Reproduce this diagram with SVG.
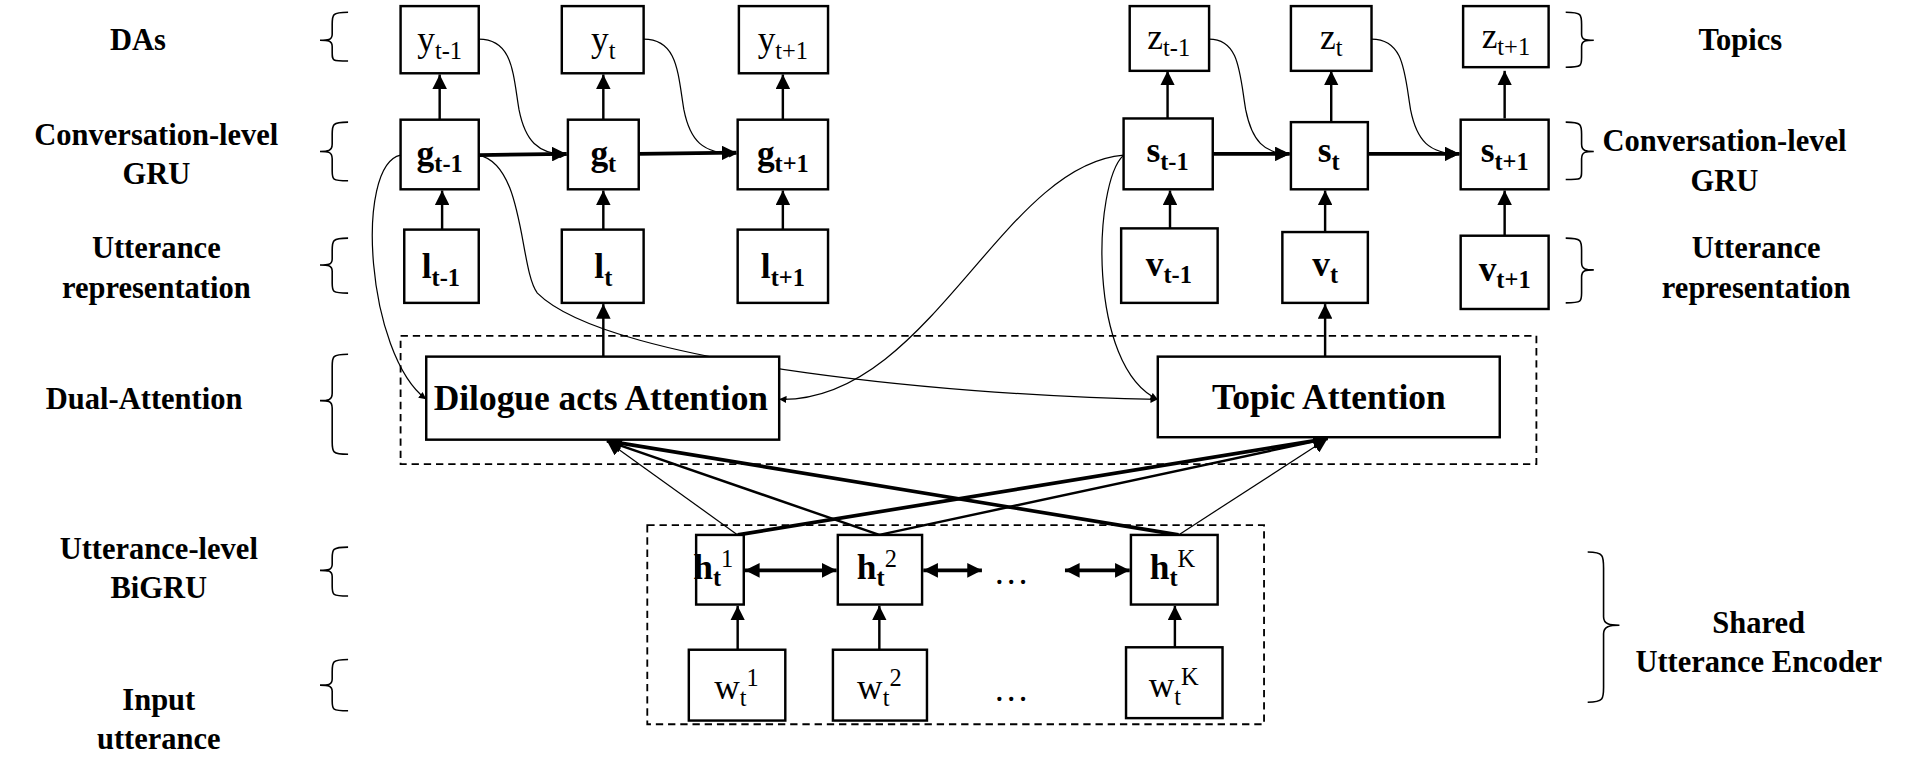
<svg xmlns="http://www.w3.org/2000/svg" width="1915" height="778" viewBox="0 0 1915 778">
<style>
.lbl{font-family:"Liberation Serif","Times New Roman",serif;font-weight:bold;font-size:25px;text-anchor:middle;fill:#000}
.n{font-family:"Liberation Serif","Times New Roman",serif;font-size:29px;text-anchor:middle;fill:#000}
.b{font-weight:bold}
.box{fill:#fff;stroke:#000;stroke-width:2}
.dash{fill:none;stroke:#000;stroke-width:1.5;stroke-dasharray:6,4}
.br{fill:none;stroke:#000;stroke-width:1.3}
.c{fill:none;stroke:#000;stroke-width:2}
.th{fill:none;stroke:#000;stroke-width:1}
.tk{fill:none;stroke:#000;stroke-width:3}
</style>
<defs>
<marker id="a" viewBox="0 0 10 10" refX="10" refY="5" markerWidth="6" markerHeight="6" orient="auto-start-reverse" markerUnits="userSpaceOnUse"><path d="M0,0 L10,5 L0,10 z" fill="#000"/></marker>
<marker id="a2" viewBox="0 0 10 10" refX="10" refY="5" markerWidth="12" markerHeight="12" orient="auto-start-reverse" markerUnits="userSpaceOnUse"><path d="M0,0 L10,5 L0,10 z" fill="#000"/></marker>
</defs>
<rect width="1915" height="778" fill="#fff"/>
<g transform="scale(1.2213)">
<g id="labels">
<text class="lbl" x="113" y="41">DAs</text>
<text class="lbl" x="128" y="119">Conversation-level</text><text class="lbl" x="128" y="151">GRU</text>
<text class="lbl" x="128" y="211">Utterance</text><text class="lbl" x="128" y="244">representation</text>
<text class="lbl" x="118" y="335">Dual-Attention</text>
<text class="lbl" x="130" y="458">Utterance-level</text><text class="lbl" x="130" y="490">BiGRU</text>
<text class="lbl" x="130" y="581">Input</text><text class="lbl" x="130" y="613">utterance</text>
<text class="lbl" x="1425" y="41">Topics</text>
<text class="lbl" x="1412" y="124">Conversation-level</text><text class="lbl" x="1412" y="156">GRU</text>
<text class="lbl" x="1438" y="211">Utterance</text><text class="lbl" x="1438" y="244">representation</text>
<text class="lbl" x="1440" y="518">Shared</text><text class="lbl" x="1440" y="550">Utterance Encoder</text>
</g>
<g id="braces">
<path class="br" d="M285,10 C272,10 272,12 272,20 L272,28 C272,33 268,33 262,33 C268,33 272,33 272,38 L272,43 C272,50 272,50 285,50"/>
<path class="br" d="M285,100 C272,100 272,102 272,110 L272,118 C272,124 268,124 262,124 C268,124 272,124 272,130 L272,140 C272,147 272,148 285,148"/>
<path class="br" d="M285,195 C272,195 272,197 272,205 L272,212 C272,217 268,217 262,217 C268,217 272,217 272,222 L272,232 C272,239 272,240 285,240"/>
<path class="br" d="M285,290 C272,290 272,292 272,300 L272,322 C272,328 268,328 262,328 C268,328 272,328 272,334 L272,362 C272,370 272,372 285,372"/>
<path class="br" d="M285,448 C272,448 272,450 272,457 L272,462 C272,467 268,467 262,467 C268,467 272,467 272,472 L272,480 C272,487 272,488 285,488"/>
<path class="br" d="M285,540 C272,540 272,542 272,550 L272,556 C272,561 268,561 262,561 C268,561 272,561 272,566 L272,574 C272,581 272,582 285,582"/>
<path class="br" d="M1282,10 C1295,10 1295,12 1295,20 L1295,28 C1295,33 1299,33 1305,33 C1299,33 1295,33 1295,38 L1295,47 C1295,54 1295,55 1282,55"/>
<path class="br" d="M1282,100 C1295,100 1295,102 1295,110 L1295,118 C1295,124 1299,124 1305,124 C1299,124 1295,124 1295,130 L1295,140 C1295,147 1295,147 1282,147"/>
<path class="br" d="M1282,195 C1295,195 1295,197 1295,205 L1295,215 C1295,221 1299,221 1305,221 C1299,221 1295,221 1295,227 L1295,240 C1295,247 1295,248 1282,248"/>
<path class="br" d="M1300,452 C1313,452 1313,455 1313,465 L1313,505 C1313,511 1318,512 1326,512 C1318,512 1313,513 1313,519 L1313,563 C1313,572 1313,575 1300,575"/>
</g>
<g id="containers">
<rect class="dash" x="328" y="275" width="930" height="105"/>
<rect class="dash" x="530" y="430" width="505" height="163"/>
</g>
<g id="connectors">
<line class="c" x1="360" y1="98" x2="360" y2="61" marker-end="url(#a2)"/>
<line class="c" x1="494" y1="98" x2="494" y2="61" marker-end="url(#a2)"/>
<line class="c" x1="641" y1="98" x2="641" y2="61" marker-end="url(#a2)"/>
<line class="c" x1="362" y1="188" x2="362" y2="156" marker-end="url(#a2)"/>
<line class="c" x1="494" y1="188" x2="494" y2="156" marker-end="url(#a2)"/>
<line class="c" x1="641" y1="188" x2="641" y2="156" marker-end="url(#a2)"/>
<line class="c" x1="494" y1="292" x2="494" y2="249" marker-end="url(#a2)"/>
<line class="tk" x1="392" y1="127" x2="464" y2="126" marker-end="url(#a2)"/>
<line class="tk" x1="523" y1="126" x2="603" y2="125" marker-end="url(#a2)"/>
<line class="c" x1="956" y1="97" x2="956" y2="58" marker-end="url(#a2)"/>
<line class="c" x1="1090" y1="100" x2="1090" y2="58" marker-end="url(#a2)"/>
<line class="c" x1="1232" y1="97" x2="1232" y2="58" marker-end="url(#a2)"/>
<line class="c" x1="958" y1="187" x2="958" y2="156" marker-end="url(#a2)"/>
<line class="c" x1="1085" y1="190" x2="1085" y2="156" marker-end="url(#a2)"/>
<line class="c" x1="1232" y1="193" x2="1232" y2="156" marker-end="url(#a2)"/>
<line class="c" x1="1085" y1="292" x2="1085" y2="249" marker-end="url(#a2)"/>
<line class="tk" x1="993" y1="126" x2="1056" y2="126" marker-end="url(#a2)"/>
<line class="tk" x1="1120" y1="126" x2="1195" y2="126" marker-end="url(#a2)"/>
<path class="th" d="M392,32 C420,32 420,60 425,90 C430,115 440,126 464,127" marker-end="url(#a)"/>
<path class="th" d="M527,32 C555,32 555,60 560,90 C565,115 575,126 603,126" marker-end="url(#a)"/>
<path class="th" d="M990,32 C1015,32 1015,60 1020,90 C1025,115 1035,126 1056,126" marker-end="url(#a)"/>
<path class="th" d="M1123,32 C1150,32 1150,60 1155,90 C1160,115 1170,126 1195,126" marker-end="url(#a)"/>
<path class="th" d="M328,127 C290,135 300,290 349,327" marker-end="url(#a)"/>
<path class="th" d="M392,127 C430,135 425,220 440,240 C500,300 800,325 948,327" marker-end="url(#a)"/>
<path class="th" d="M920,127 C820,135 760,330 638,327" marker-end="url(#a)"/>
<path class="th" d="M920,127 C895,150 890,300 948,327" marker-end="url(#a)"/>
<line class="th" x1="604" y1="438" x2="497" y2="361" marker-end="url(#a2)"/>
<line class="c" x1="720" y1="438" x2="497" y2="361" marker-end="url(#a2)"/>
<line class="tk" x1="965" y1="438" x2="497" y2="361" marker-end="url(#a2)"/>
<line class="tk" x1="604" y1="438" x2="1087" y2="359" marker-end="url(#a2)"/>
<line class="c" x1="720" y1="438" x2="1087" y2="359" marker-end="url(#a2)"/>
<line class="th" x1="965" y1="438" x2="1087" y2="359" marker-end="url(#a2)"/>
<line class="c" x1="604" y1="532" x2="604" y2="496" marker-end="url(#a2)"/>
<line class="c" x1="720" y1="532" x2="720" y2="496" marker-end="url(#a2)"/>
<line class="c" x1="962" y1="532" x2="962" y2="496" marker-end="url(#a2)"/>
<line class="tk" x1="610" y1="467" x2="685" y2="467" marker-start="url(#a2)" marker-end="url(#a2)"/>
<line class="tk" x1="756" y1="467" x2="804" y2="467" marker-start="url(#a2)" marker-end="url(#a2)"/>
<line class="tk" x1="872" y1="467" x2="925" y2="467" marker-start="url(#a2)" marker-end="url(#a2)"/>
</g>
<g id="n_y1"><rect class="box" x="328" y="5" width="64" height="55"/><text class="n" x="360" y="42">y<tspan font-size="20" dy="6">t-1</tspan></text></g>
<g id="n_y2"><rect class="box" x="460" y="5" width="67" height="55"/><text class="n" x="494" y="42">y<tspan font-size="20" dy="6">t</tspan></text></g>
<g id="n_y3"><rect class="box" x="605" y="5" width="73" height="55"/><text class="n" x="641" y="42">y<tspan font-size="20" dy="6">t+1</tspan></text></g>
<g id="n_z1"><rect class="box" x="925" y="5" width="65" height="53"/><text class="n" x="957" y="40">z<tspan font-size="20" dy="6">t-1</tspan></text></g>
<g id="n_z2"><rect class="box" x="1057" y="5" width="66" height="53"/><text class="n" x="1090" y="40">z<tspan font-size="20" dy="6">t</tspan></text></g>
<g id="n_z3"><rect class="box" x="1198" y="5" width="70" height="50"/><text class="n" x="1233" y="39">z<tspan font-size="20" dy="6">t+1</tspan></text></g>
<g id="n_g1"><rect class="box" x="328" y="98" width="64" height="57"/><text class="n b" x="360" y="135">g<tspan font-size="20" dy="6">t-1</tspan></text></g>
<g id="n_g2"><rect class="box" x="465" y="98" width="58" height="57"/><text class="n b" x="494" y="135">g<tspan font-size="20" dy="6">t</tspan></text></g>
<g id="n_g3"><rect class="box" x="604" y="98" width="74" height="57"/><text class="n b" x="641" y="135">g<tspan font-size="20" dy="6">t+1</tspan></text></g>
<g id="n_s1"><rect class="box" x="920" y="97" width="73" height="58"/><text class="n b" x="956" y="133">s<tspan font-size="20" dy="6">t-1</tspan></text></g>
<g id="n_s2"><rect class="box" x="1057" y="100" width="63" height="55"/><text class="n b" x="1088" y="133">s<tspan font-size="20" dy="6">t</tspan></text></g>
<g id="n_s3"><rect class="box" x="1196" y="98" width="72" height="57"/><text class="n b" x="1232" y="133">s<tspan font-size="20" dy="6">t+1</tspan></text></g>
<g id="n_l1"><rect class="box" x="331" y="188" width="61" height="60"/><text class="n b" x="361" y="228">l<tspan font-size="20" dy="6">t-1</tspan></text></g>
<g id="n_l2"><rect class="box" x="460" y="188" width="67" height="60"/><text class="n b" x="494" y="228">l<tspan font-size="20" dy="6">t</tspan></text></g>
<g id="n_l3"><rect class="box" x="604" y="188" width="74" height="60"/><text class="n b" x="641" y="228">l<tspan font-size="20" dy="6">t+1</tspan></text></g>
<g id="n_v1"><rect class="box" x="918" y="187" width="79" height="61"/><text class="n b" x="957" y="226">v<tspan font-size="20" dy="6">t-1</tspan></text></g>
<g id="n_v2"><rect class="box" x="1050" y="190" width="70" height="58"/><text class="n b" x="1085" y="226">v<tspan font-size="20" dy="6">t</tspan></text></g>
<g id="n_v3"><rect class="box" x="1196" y="193" width="72" height="60"/><text class="n b" x="1232" y="230">v<tspan font-size="20" dy="6">t+1</tspan></text></g>
<g id="n_da"><rect class="box" x="349" y="292" width="289" height="68"/><text class="n b" x="492" y="336" font-size="24">Dilogue acts Attention</text></g>
<g id="n_ta"><rect class="box" x="948" y="292" width="280" height="66"/><text class="n b" x="1088" y="335" font-size="24">Topic Attention</text></g>
<g id="n_h1"><rect class="box" x="570" y="438" width="39" height="57"/><text class="n b" x="584" y="474">h<tspan font-size="20" dy="6">t</tspan><tspan font-size="20" font-weight="normal" dy="-16">1</tspan></text></g>
<g id="n_h2"><rect class="box" x="686" y="438" width="69" height="57"/><text class="n b" x="718" y="474">h<tspan font-size="20" dy="6">t</tspan><tspan font-size="20" font-weight="normal" dy="-16">2</tspan></text></g>
<g id="n_hK"><rect class="box" x="926" y="438" width="71" height="57"/><text class="n b" x="960" y="474">h<tspan font-size="20" dy="6">t</tspan><tspan font-size="20" font-weight="normal" dy="-16">K</tspan></text></g>
<g id="n_w1"><rect class="box" x="564" y="532" width="79" height="58"/><text class="n" x="603" y="572">w<tspan font-size="20" dy="6">t</tspan><tspan font-size="20" dy="-16">1</tspan></text></g>
<g id="n_w2"><rect class="box" x="682" y="532" width="77" height="58"/><text class="n" x="720" y="572">w<tspan font-size="20" dy="6">t</tspan><tspan font-size="20" dy="-16">2</tspan></text></g>
<g id="n_wK"><rect class="box" x="922" y="530" width="79" height="58"/><text class="n" x="961" y="571">w<tspan font-size="20" dy="6">t</tspan><tspan font-size="20" dy="-16">K</tspan></text></g>
<text class="n" x="828" y="478">…</text>
<text class="n" x="828" y="574">…</text>
</g>
</svg>
